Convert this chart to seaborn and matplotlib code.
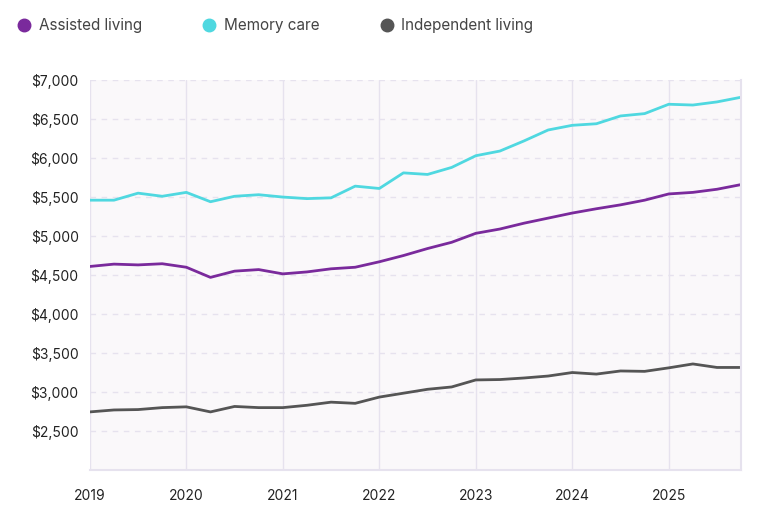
import matplotlib
matplotlib.use("Agg")
import matplotlib.pyplot as plt
from matplotlib.lines import Line2D
from matplotlib.ticker import FuncFormatter
import seaborn as sns
import pandas as pd
import numpy as np

# quarterly points, 2019 Q1 .. 2025 Q4
quarters = [2019 + i * 0.25 for i in range(28)]

assisted = [4610, 4640, 4630, 4645, 4600, 4470, 4550, 4570,
            4515, 4540, 4580, 4600, 4670, 4750, 4840, 4920,
            5035, 5090, 5165, 5230, 5295, 5350, 5400, 5460,
            5540, 5560, 5600, 5660]
memory = [5460, 5460, 5550, 5510, 5560, 5440, 5510, 5530,
          5500, 5480, 5490, 5640, 5610, 5810, 5790, 5880,
          6030, 6090, 6220, 6360, 6420, 6440, 6540, 6570,
          6690, 6680, 6720, 6780]
independent = [2745, 2770, 2775, 2800, 2810, 2745, 2815, 2800,
               2800, 2830, 2870, 2855, 2935, 2985, 3035, 3065,
               3155, 3160, 3180, 3205, 3250, 3230, 3270, 3265,
               3310, 3360, 3315, 3315]

series_names = ["Assisted living", "Memory care", "Independent living"]
colors = ["#7a2a9c", "#4fd8e0", "#555555"]
year_ticks = [2019, 2020, 2021, 2022, 2023, 2024, 2025]
y_ticks = [2500, 3000, 3500, 4000, 4500, 5000, 5500, 6000, 6500, 7000]

df = pd.DataFrame({
    "quarter": quarters * 3,
    "cost": assisted + memory + independent,
    "type": np.repeat(series_names, len(quarters)),
})

sns.set_theme(style="white")
plt.rcParams["font.family"] = ["Inter", "DejaVu Sans"]

fig = plt.figure(figsize=(7.68, 5.22), dpi=100)
ax = fig.add_axes([0.117, 0.0996, 0.848, 0.747])
ax.set_facecolor("#faf8fa")

sns.lineplot(data=df, x="quarter", y="cost", hue="type",
             palette=dict(zip(series_names, colors)), linewidth=2,
             legend=False, ax=ax)

ax.set_xlim(2019, 2025.75)
ax.set_ylim(2000, 7000)
ax.set_xticks(year_ticks)
ax.set_yticks(y_ticks)
ax.yaxis.set_major_formatter(FuncFormatter(lambda v, p: f"${v:,.0f}"))
ax.set_xlabel("")
ax.set_ylabel("")
ax.tick_params(axis="both", length=0, labelsize=10, colors="#222222")
ax.tick_params(axis="x", pad=14)
ax.tick_params(axis="y", pad=8)

ax.yaxis.grid(True, color="#e6e2ee", linestyle=(0, (4, 4)), linewidth=1)
ax.xaxis.grid(True, color="#e6e2ee", linestyle="-", linewidth=1)
for side in ["top", "left"]:
    ax.spines[side].set_visible(False)
for side in ["bottom", "right"]:
    ax.spines[side].set_color("#e6e2ee")
    ax.spines[side].set_linewidth(1.5)

handles = [Line2D([0], [0], marker="o", linestyle="", markersize=9,
                  markerfacecolor=c, markeredgecolor=c) for c in colors]
fig.legend(handles, series_names, loc="upper left", ncol=3,
           bbox_to_anchor=(0.0, 0.991), frameon=False, fontsize=11,
           handlelength=1.4, handletextpad=0.25, columnspacing=3.7,
           labelcolor="#444444")

fig.savefig("out.png", dpi=100, facecolor="white")
